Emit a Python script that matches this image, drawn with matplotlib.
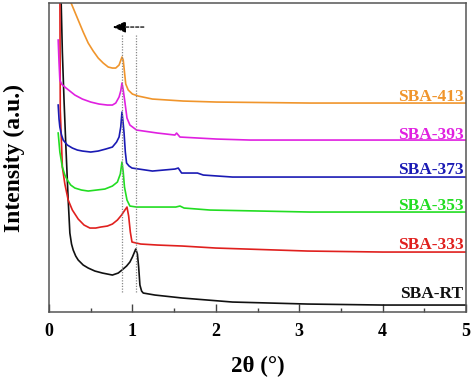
import matplotlib.pyplot as plt
from matplotlib.ticker import MultipleLocator

plt.rcParams['font.family'] = ['Liberation Serif', 'DejaVu Serif']
plt.rcParams['font.weight'] = 'bold'

# ------------------------------
# Data (arbitrary intensity units)
# ------------------------------
x_rt = [0.14, 0.16, 0.18, 0.20, 0.23, 0.25, 0.27, 0.29, 0.32, 0.35, 0.41, 0.47,
        0.55, 0.64, 0.76, 0.83, 0.875, 0.93, 0.97, 1.00, 1.04, 1.06, 1.075,
        1.09, 1.11, 1.13, 1.27, 1.6, 2.2, 3.1, 4.0, 5.0]
y_rt = [330, 260, 212, 170, 112, 79, 68, 62, 56, 52, 47, 44,
        41, 39, 37, 39, 42, 46, 50, 55, 63, 58, 45,
        27, 21, 19, 17, 14, 10, 8, 7, 7]

x_333 = [0.13, 0.135, 0.16, 0.19, 0.23, 0.28, 0.35, 0.42, 0.49, 0.56, 0.62, 0.70,
         0.76, 0.82, 0.87, 0.91, 0.935, 0.955, 0.975, 0.995, 1.1, 1.3, 1.6,
         2.0, 3.1, 4.0, 5.0]
y_333 = [330, 202, 145, 128, 112, 102, 93, 87, 84, 84, 85, 86,
         88, 92, 97, 102, 105, 96, 80, 70, 68, 67, 66,
         64, 61, 60, 60]

x_353 = [0.11, 0.13, 0.16, 0.19, 0.22, 0.26, 0.31, 0.39, 0.47, 0.57, 0.67, 0.76,
         0.82, 0.855, 0.875, 0.89, 0.905, 0.935, 0.97, 1.05, 1.24, 1.52, 1.57,
         1.62, 1.93, 3.13, 4.0, 5.0]
y_353 = [179, 160, 145, 137, 132, 127, 124, 122, 121, 122, 123, 126,
         130, 138, 150, 140, 125, 112, 106, 105, 105, 105, 106,
         104, 102, 100, 100, 100]

x_373 = [0.11, 0.12, 0.13, 0.15, 0.17, 0.22, 0.28, 0.34, 0.40, 0.50, 0.59, 0.68,
         0.76, 0.81, 0.84, 0.86, 0.875, 0.89, 0.90, 0.915, 0.93, 0.96, 0.995,
         1.24, 1.51, 1.55, 1.59, 1.78, 1.85, 2.2, 3.13, 4.0, 5.0]
y_373 = [207, 193, 185, 177, 172, 167, 164, 162, 161, 160, 161, 163,
         165, 170, 175, 185, 200, 188, 179, 160, 149, 146, 144,
         141, 143, 144, 139, 139, 137, 135, 135, 135, 135]

x_393 = [0.11, 0.12, 0.13, 0.15, 0.19, 0.25, 0.31, 0.40, 0.50, 0.60, 0.70, 0.76,
         0.80, 0.84, 0.86, 0.875, 0.89, 0.91, 0.935, 0.97, 1.05, 1.30, 1.51,
         1.53, 1.57, 2.01, 2.41, 3.13, 4.0, 5.0]
y_393 = [272, 250, 232, 228, 225, 221, 217, 213, 210, 208, 207, 207,
         209, 215, 221, 229, 222, 210, 194, 187, 182, 179, 177,
         179, 175, 173, 172, 172, 172, 172]

x_413 = [0.22, 0.25, 0.30, 0.35, 0.41, 0.47, 0.53, 0.59, 0.65, 0.71, 0.76, 0.80,
         0.84, 0.875, 0.89, 0.905, 0.92, 0.95, 1.00, 1.07, 1.24, 1.61, 2.01,
         3.13, 4.0, 5.0]
y_413 = [345, 312, 302, 292, 280, 269, 261, 254, 249, 245, 244, 244,
         247, 255, 252, 240, 228, 222, 218, 216, 213, 211, 210,
         209, 209, 209]

labels = ['SBA-RT', 'SBA-333', 'SBA-353', 'SBA-373', 'SBA-393', 'SBA-413']
colors = ['#111111', '#e0201e', '#22dd22', '#1a1ab4', '#e020e0', '#f0952c']
label_y = [14, 63, 102, 138, 173, 211]

# peak guide lines and shift arrow
guide_x = [0.875, 1.04]
arrow_tail = (1.17, 285)
arrow_tip = (0.73, 285)

# ------------------------------
# Plot
# ------------------------------
fig = plt.figure(figsize=(4.74, 3.81), dpi=100)
ax = fig.add_axes([0.1034, 0.181, 0.8797, 0.811])

series = [(x_rt, y_rt), (x_333, y_333), (x_353, y_353),
          (x_373, y_373), (x_393, y_393), (x_413, y_413)]
for (xs, ys), c in zip(series, colors):
    ax.plot(xs, ys, color=c, lw=1.2)

for (lab, c, ly) in zip(labels, colors, label_y):
    ax.text(4.97, ly, lab, color=c, fontsize=12.5, fontweight='bold',
            ha='right', va='baseline')

for gx in guide_x:
    ax.plot([gx, gx], [20, 277], color='#888888', lw=0.9, ls=(0, (1, 1.2)))

ax.annotate('', xy=arrow_tip, xytext=arrow_tail,
            arrowprops=dict(arrowstyle='-|>,head_length=0.8,head_width=0.35',
                            color='black', lw=0.9, ls=(0, (2.5, 1.5))))

ax.set_xlim(0, 5)
ax.set_ylim(0, 309)
ax.set_yticks([])
ax.xaxis.set_major_locator(MultipleLocator(1))
ax.xaxis.set_minor_locator(MultipleLocator(0.5))
ax.tick_params(axis='x', which='major', direction='in', length=6, width=1,
               color='#444444', labelsize=13, pad=8)
ax.tick_params(axis='x', which='minor', direction='in', length=3, width=1,
               color='#444444')
for s in ax.spines.values():
    s.set_color('#555555')
    s.set_linewidth(1.1)

ax.set_xlabel('2θ (°)', fontsize=16.5, fontweight='bold', labelpad=11)
ax.set_ylabel('Intensity (a.u.)', fontsize=17, fontweight='bold', labelpad=17)

fig.savefig('out.png', dpi=100)
